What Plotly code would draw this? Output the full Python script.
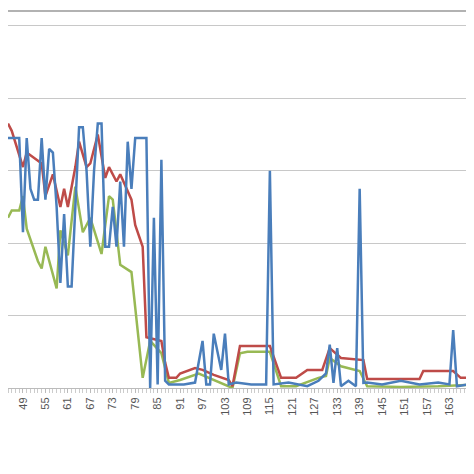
import plotly.graph_objects as go

blue_x = [45,46,47,48,49,50,51,52,53,54,55,56,57,58,59,60,61,62,63,64,65,66,67,68,69,70,71,72,73,74,75,76,77,78,79,80,81,82,83,84,85,86,87,88,92,95,97,98,99,100,102,103,104,106,110,114,115,116,120,125,128,130,131,132,133,134,136,138,139,140,141,145,150,155,160,163,164,165,168,171]
blue_y = [69,69,69,69,43,69,55,52,52,69,52,66,65,50,29,48,28,28,50,72,72,60,39,60,73,73,39,39,50,39,57,39,68,55,69,69,69,69,0,47,1,63,2,1,1,1.5,13,1,1,15,5,15,1,1.5,1,1,60,1,1.5,0.5,2,4,12,1.4,11,0.5,2,0.5,55,1.4,1.5,1,2,1,1.5,1,16,0.5,1,1.4]

red_x = [45,46,49,50,54,55,57,59,60,61,63,64,66,67,69,71,72,74,75,78,79,81,82,86,87,88,90,91,95,97,100,104,105,107,115,118,122,125,129,131,134,140,141,155,156,164,166,171]
red_y = [73,71,61,65,62,53,59,50,55,50,61,68,61,62,70,58,61,57,59,52,45,39,14,13,7,2.8,2.8,4,5.5,5,3.6,2.2,0.5,11.6,11.6,2.8,2.8,5,5,11,8.3,7.7,2.5,2.5,4.7,4.7,2.8,2.8]

green_x = [45,46,48,49,50,53,54,55,58,59,61,63,65,67,70,72,73,75,78,81,83,86,88,91,96,100,105,107,109,115,118,122,128,130,131,134,139,141,150,160,171]
green_y = [47,49,49,53,44,35,33,39,27.5,43.5,36.6,55.6,43,47,37,53,52,34,32,2.8,13,9.6,1.4,2.2,4,2.2,0,9.6,10,10,0.5,0.5,2.8,3.3,8.3,6,4.7,0.5,0.3,0.5,1]

tick_vals = list(range(49, 170, 6))
tick_text = [str(v) for v in tick_vals]

fig = go.Figure()
fig.add_trace(go.Scatter(x=green_x, y=green_y, mode="lines", line=dict(color="#98b954", width=2.5)))
fig.add_trace(go.Scatter(x=red_x, y=red_y, mode="lines", line=dict(color="#be4b48", width=2.5)))
fig.add_trace(go.Scatter(x=blue_x, y=blue_y, mode="lines", line=dict(color="#4a7ebb", width=2.5)))

fig.update_layout(
    width=474, height=474, showlegend=False,
    paper_bgcolor="white", plot_bgcolor="white",
    margin=dict(l=0, r=0, t=16, b=94, pad=0),
    xaxis=dict(range=[45, 171.7], tickvals=tick_vals, ticktext=tick_text, tickangle=-90,
               automargin=False,
               tickfont=dict(family="Liberation Sans", size=11, color="#555555"),
               showgrid=False, zeroline=False, showline=True, linecolor="#bbbbbb",
               ticks="outside", ticklen=4, tickcolor="#bbbbbb",
               minor=dict(dtick=1, ticks="outside", ticklen=4, tickcolor="#cccccc")),
    yaxis=dict(range=[0, 100.5], dtick=20, showticklabels=False, showgrid=True,
               automargin=False,
               gridcolor="#c8c8c8", gridwidth=1, zeroline=False),
    shapes=[
        dict(type="line", xref="paper", yref="paper", x0=0, x1=1, y0=1.036, y1=1.036,
             line=dict(color="#999999", width=1.5)),
        dict(type="line", xref="paper", yref="paper", x0=0, x1=1, y0=-0.246, y1=-0.246,
             line=dict(color="#aaaaaa", width=1.5)),
    ],
)
fig.write_html("out.html")
